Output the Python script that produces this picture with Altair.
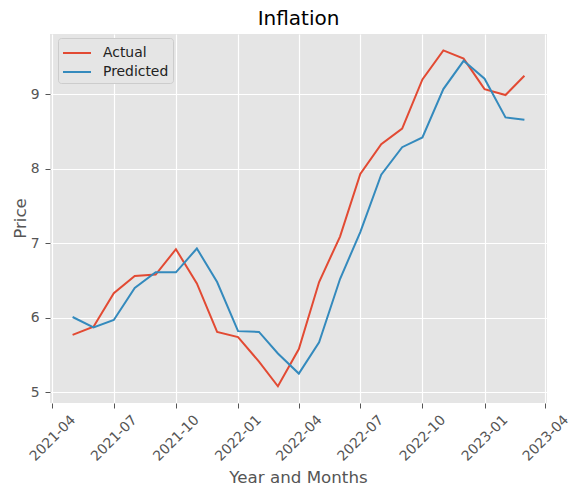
import altair as alt
import pandas as pd

months = ["2021-05-01", "2021-06-01", "2021-07-01", "2021-08-01", "2021-09-01", "2021-10-01",
          "2021-11-01", "2021-12-01", "2022-01-01", "2022-02-01", "2022-03-01", "2022-04-01",
          "2022-05-01", "2022-06-01", "2022-07-01", "2022-08-01", "2022-09-01", "2022-10-01",
          "2022-11-01", "2022-12-01", "2023-01-01", "2023-02-01", "2023-03-01"]
actual = [5.77, 5.88, 6.33, 6.56, 6.58, 6.92, 6.46, 5.81, 5.74, 5.41, 5.08, 5.58,
          6.48, 7.09, 7.93, 8.33, 8.54, 9.20, 9.59, 9.48, 9.07, 8.99, 9.25]
predicted = [6.01, 5.87, 5.97, 6.40, 6.61, 6.61, 6.93, 6.48, 5.82, 5.81, 5.52, 5.25,
             5.67, 6.52, 7.15, 7.92, 8.29, 8.42, 9.07, 9.45, 9.21, 8.69, 8.66]
series_names = ["Actual", "Predicted"]
series_colors = ["#E24A33", "#348ABD"]
y_ticks = [5, 6, 7, 8, 9]
x_ticks = [(2021, 4), (2021, 7), (2021, 10), (2022, 1), (2022, 4), (2022, 7),
           (2022, 10), (2023, 1), (2023, 4)]

df = pd.DataFrame({
    "date": months * 2,
    "value": actual + predicted,
    "series": [series_names[0]] * len(months) + [series_names[1]] * len(months),
})

FONT = "DejaVu Sans"

x_domain = [alt.DateTime(year=2021, month=3, date=28, hours=13, utc=True),
            alt.DateTime(year=2023, month=4, date=3, hours=11, utc=True)]
x_values = [alt.DateTime(year=y, month=m, date=1, utc=True) for y, m in x_ticks]

chart = alt.Chart(df).mark_line(strokeWidth=2).encode(
    x=alt.X("date:T",
            scale=alt.Scale(type="utc", domain=x_domain, nice=False),
            axis=alt.Axis(values=x_values, labelExpr="utcFormat(datum.value, '%Y-%m')",
                          title="Year and Months", labelAngle=-45, labelAlign="center",
                          labelBaseline="middle", labelPadding=30, labelOverlap=False,
                          labelFlush=False, titleX=248, titleY=79,
                          titleBaseline="alphabetic", titleAnchor="middle")),
    y=alt.Y("value:Q",
            scale=alt.Scale(domain=[4.855, 9.81], nice=False, zero=False),
            axis=alt.Axis(values=y_ticks, format="d", title="Price", labelPadding=6,
                          titleX=-25, titleY=184, titleBaseline="alphabetic",
                          titleAngle=-90)),
    color=alt.Color("series:N",
                    scale=alt.Scale(domain=series_names, range=series_colors),
                    legend=alt.Legend(title=None, orient="none", legendX=8, legendY=4,
                                      symbolType="M-1,0H1.8", symbolSize=400,
                                      symbolStrokeWidth=2, labelOffset=19,
                                      labelFontSize=13.9, labelFont=FONT,
                                      labelColor="#222222", padding=4, rowPadding=1,
                                      fillColor="#E5E5E5", strokeColor="#CCCCCC",
                                      cornerRadius=3)),
).properties(
    width=497,
    height=369,
    title=alt.TitleParams("Inflation", fontSize=20, font=FONT, fontWeight="normal",
                          color="#000000", anchor="middle", offset=5),
    autosize=alt.AutoSizeParams(type="none"),
    padding={"left": 42, "top": 26, "right": 24, "bottom": 90},
).configure_view(
    fill="#E5E5E5", stroke=None
).configure_axis(
    domain=False, grid=True, gridColor="#FFFFFF", gridWidth=1.2,
    tickColor="#555555", tickSize=5, tickWidth=1,
    labelFont=FONT, labelFontSize=13.9, labelColor="#555555",
    titleFont=FONT, titleFontSize=16.7, titleColor="#555555", titleFontWeight="normal",
)

chart.save("out.html", embed_options={"renderer": "svg", "actions": False})
